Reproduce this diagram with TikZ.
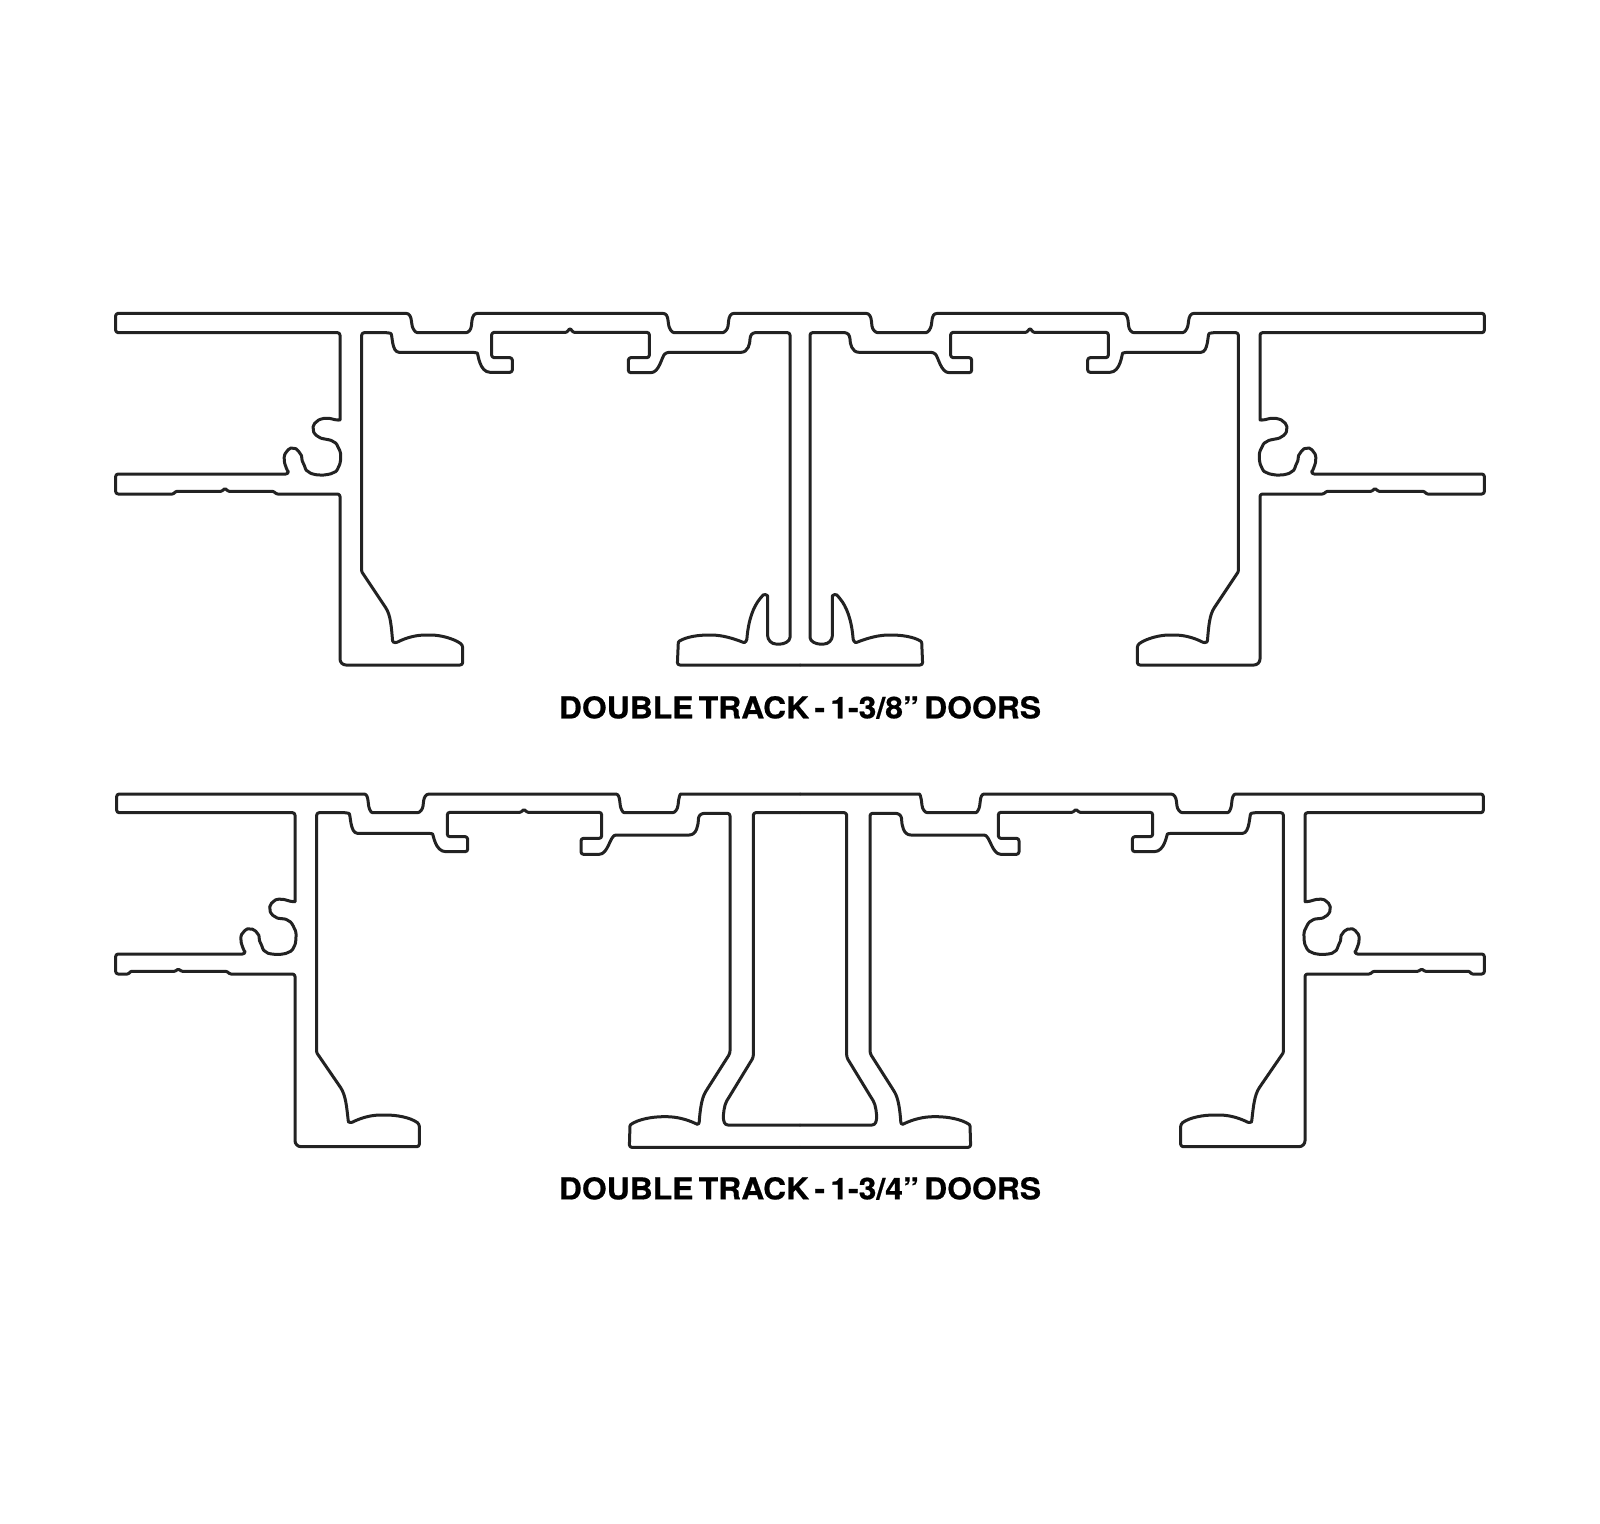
\documentclass[tikz,border=0pt]{standalone}
\usepackage{fontspec}
\setmainfont{TeX Gyre Heros}
\newfontfamily\capfont[FakeStretch=1.062,WordSpace=0.6,FakeBold=0.6]{TeX Gyre Heros Bold}
\definecolor{ink}{HTML}{222222}
\tikzset{
  prof/.style={draw=ink,line width=3pt,rounded corners=2.5pt,line join=round,line cap=round},
  lab/.style={anchor=base,inner sep=0pt,text=black,font=\fontsize{30}{36}\selectfont\capfont},
  sm/.style={smooth,tension=0.6}
}
\newcommand\halfA{%
\path[prof] (2400,70) -- (2210,70)
  .. controls (2192,70) and (2187,80) .. (2185,100)
  .. controls (2183,120) and (2172,128) .. (2160,128) -- (2030,128)
  .. controls (2015,128) and (2008,115) .. (2005,100)
  .. controls (2003,80) and (2000,70) .. (1980,70) -- (1440,70)
  .. controls (1422,70) and (1417,80) .. (1415,100)
  .. controls (1413,120) and (1405,128) .. (1390,128) -- (1260,128)
  .. controls (1245,128) and (1238,115) .. (1235,100)
  .. controls (1233,80) and (1228,70) .. (1210,70) -- (347,70) -- (347,128) -- (1020,128)
  -- plot[sm] coordinates {(1020,395) (980,385) (950,395) (940,418) (955,440) (1000,455) (1016,475) (1022,500) (1016,530) (1000,548) (960,555) (925,545) (910,520) (900,490) (880,475) (860,485) (853,510) (865,552)}
  -- (347,552) -- (347,612) [rounded corners=1pt] -- (520,612) -- (528,604) -- (665,604) -- (675,595) -- (685,604) -- (820,604) -- (830,612) [rounded corners=2.5pt] -- (1020,612)
  [rounded corners=6pt] -- (1020,1125) [rounded corners=2.5pt] -- (1388,1125) -- (1388,1065)
  .. controls (1360,1045) and (1320,1035) .. (1285,1035)
  .. controls (1250,1035) and (1220,1042) .. (1185,1060)
  [rounded corners=1pt] -- (1178,1055)
  .. controls (1174,1010) and (1172,975) .. (1155,950)
  -- (1085,845)
  [rounded corners=2.5pt] -- (1085,128) -- (1165,128)
  .. controls (1178,132) and (1174,187) .. (1205,187)
  -- (1425,187)
  .. controls (1434,190) and (1438,247) .. (1478,247)
  -- (1537,247) -- (1537,203) -- (1475,203) -- (1475,127)
  [rounded corners=1pt] -- (1700,127) -- (1710,115) -- (1720,127) [rounded corners=2.5pt]
  -- (1948,127) -- (1948,203) -- (1885,203) -- (1885,248) -- (1945,248)
  .. controls (1978,248) and (1985,200) .. (2000,187)
  -- (2215,187)
  .. controls (2245,187) and (2250,160) .. (2250,140)
  -- (2258,128)
  -- (2370,128) -- (2370,1035)
  .. controls (2370,1055) and (2350,1062) .. (2335,1062)
  .. controls (2315,1062) and (2303,1050) .. (2303,1030)
  -- (2303,925)
  .. controls (2303,915) and (2292,912) .. (2285,920)
  .. controls (2260,950) and (2245,990) .. (2240,1055)
  [rounded corners=1pt] -- (2232,1058)
  .. controls (2200,1045) and (2165,1035) .. (2130,1035)
  .. controls (2095,1035) and (2060,1040) .. (2035,1055)
  [rounded corners=2.5pt] -- (2032,1125) -- (2400,1125);
}
\newcommand\halfB{%
\path[prof] (2400,72) -- (2050,72)
  .. controls (2040,72) and (2037,82) .. (2035,97)
  .. controls (2033,118) and (2025,128) .. (2010,128) -- (1880,128)
  .. controls (1868,128) and (1862,115) .. (1860,100)
  .. controls (1858,82) and (1855,72) .. (1840,72) -- (1295,72)
  .. controls (1278,72) and (1272,82) .. (1270,100)
  .. controls (1268,118) and (1260,128) .. (1245,128) -- (1125,128)
  .. controls (1112,128) and (1107,115) .. (1105,100)
  .. controls (1103,82) and (1100,72) .. (1085,72) -- (350,72) -- (350,128) -- (885,128)
  -- plot[sm] coordinates {(885,400) (845,388) (820,395) (810,418) (825,440) (865,452) (883,475) (888,500) (882,530) (865,547) (830,553) (797,545) (782,520) (772,490) (750,477) (730,487) (723,510) (735,552)}
  -- (347,552) -- (347,612) [rounded corners=1pt] -- (385,612) -- (392,604) -- (525,604) -- (535,597) -- (545,604) -- (680,604) -- (690,612) [rounded corners=2.5pt] -- (885,612)
  [rounded corners=6pt] -- (885,1130) [rounded corners=2.5pt] -- (1258,1130) -- (1258,1062)
  .. controls (1230,1042) and (1190,1035) .. (1150,1035)
  .. controls (1110,1035) and (1080,1045) .. (1050,1060)
  [rounded corners=1pt] -- (1045,1055)
  .. controls (1040,1010) and (1037,975) .. (1020,950)
  -- (950,848)
  [rounded corners=2.5pt] -- (950,128) -- (1040,128)
  .. controls (1052,132) and (1050,190) .. (1080,190)
  -- (1290,190)
  .. controls (1300,192) and (1305,245) .. (1345,245)
  -- (1403,245) -- (1403,200) -- (1342,200) -- (1342,127)
  [rounded corners=1pt] -- (1562,127) -- (1572,118) -- (1582,127) [rounded corners=2.5pt]
  -- (1805,127) -- (1805,205) -- (1743,205) -- (1743,253) -- (1790,253)
  .. controls (1825,253) and (1830,195) .. (1855,195)
  -- (2060,195)
  .. controls (2090,195) and (2095,165) .. (2095,140)
  -- (2105,130)
  -- (2190,130) -- (2190,850)
  -- (2120,960)
  .. controls (2105,985) and (2100,1020) .. (2097,1065)
  [rounded corners=1pt] -- (2090,1062)
  .. controls (2060,1048) and (2030,1040) .. (1995,1040)
  .. controls (1955,1040) and (1915,1048) .. (1890,1065)
  [rounded corners=2.5pt] -- (1888,1132) -- (2400,1132);
\path[prof] (2400,128) -- (2260,128) -- (2260,862) -- (2185,985)
  .. controls (2172,1005) and (2170,1035) .. (2170,1050)
  -- (2176,1065) -- (2400,1065);
}
\begin{document}
\begin{tikzpicture}[x=0.33333pt,y=-0.33333pt]
\useasboundingbox (0,0) rectangle (4800,4572);
\fill[white] (0,0) rectangle (4800,4572);
\begin{scope}[shift={(0,870)}]\halfA\end{scope}
\begin{scope}[shift={(4800,870)},xscale=-1]\halfA\end{scope}
\begin{scope}[shift={(0,2310)}]\halfB\end{scope}
\begin{scope}[shift={(4800,2310)},xscale=-1]\halfB\end{scope}
\node[lab] (capa) at (2400,2155) {DOUBLE TRACK - 1-3/8” DOORS};
\node[lab] (capb) at (2400,3598) {DOUBLE TRACK - 1-3/4” DOORS};
\end{tikzpicture}
\end{document}
